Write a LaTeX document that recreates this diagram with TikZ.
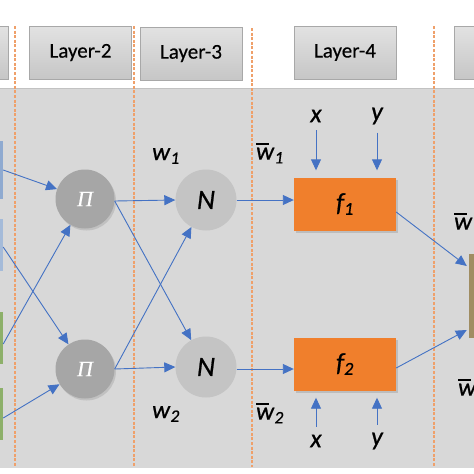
\documentclass[tikz,border=0pt]{standalone}
\usepackage{fontspec}
\setmainfont{Carlito}
\newfontfamily\lblfont{Carlito}[FakeBold=0.7]
\newfontfamily\hdfont{Carlito}[FakeBold=0.35]
\newfontfamily\pifont{Liberation Serif}[FakeBold=0.3]
\usetikzlibrary{arrows.meta,shadows}
\definecolor{panelgray}{HTML}{D8D8D8}
\definecolor{boxtop}{HTML}{E2E2E2}
\definecolor{boxbot}{HTML}{C6C6C6}
\definecolor{boxedge}{HTML}{A8A8A8}
\definecolor{dashorange}{HTML}{EFA06A}
\definecolor{arrowblue}{HTML}{4472C4}
\definecolor{pigray}{HTML}{A6A6A6}
\definecolor{ngray}{HTML}{C4C4C4}
\definecolor{forange}{HTML}{F07F2C}
\definecolor{inblue}{HTML}{8FAAD0}
\definecolor{ingreen}{HTML}{8DB06A}
\definecolor{outolive}{HTML}{A08D62}
\newcommand{\wbar}[1]{\makebox[0pt][l]{\raisebox{0.6em}{\rule{0.52em}{2pt}}}\textit{w}\textsubscript{\itshape #1}}
\tikzset{
  layerbox/.style={draw=boxedge, line width=0.6pt, top color=boxtop, bottom color=boxbot,
    minimum width=102pt, minimum height=53pt, inner sep=0pt, font=\hdfont\fontsize{21}{23}\selectfont},
  dashline/.style={draw=dashorange, line width=1.8pt, dash pattern=on 3pt off 1.6pt},
  picirc/.style={circle, fill=pigray, minimum size=59pt, inner sep=0pt,
    drop shadow={opacity=0.25, shadow xshift=1.5pt, shadow yshift=-2pt},
    text=white, font=\pifont\itshape\fontsize{22}{24}\selectfont},
  ncirc/.style={circle, fill=ngray, minimum size=61pt, inner sep=0pt,
    font=\lblfont\itshape\fontsize{28}{30}\selectfont},
  fbox/.style={rectangle, fill=forange, minimum width=102pt, minimum height=53pt, inner sep=0pt,
    drop shadow={opacity=0.3, shadow xshift=1.5pt, shadow yshift=-2.5pt},
    font=\lblfont\itshape\fontsize{26}{28}\selectfont},
  inbox/.style={rectangle, minimum width=24pt, inner sep=0pt},
  conn/.style={draw=arrowblue, line width=0.9pt, -{Triangle[length=11pt,width=10pt]}},
  lbl/.style={inner sep=0pt, font=\lblfont\fontsize{25}{27}\selectfont},
  xylbl/.style={inner sep=0pt, font=\lblfont\itshape\fontsize{26}{28}\selectfont}
}
\begin{document}
\begin{tikzpicture}[x=1pt,y=-1pt]
\useasboundingbox (0,0) rectangle (474,474);
\clip (0,0) rectangle (474,474);
\fill[white] (0,0) rectangle (474,474);
\fill[panelgray] (0,88) rectangle (474,468);
\draw[boxedge!70, line width=0.5pt] (0,88) -- (474,88);

% layer header boxes
\node[layerbox] (L1) at (-43,52.5) {};
\node[layerbox] (L2) at (80.5,52.5) {Layer-2};
\node[layerbox] (L3) at (191,53.5) {Layer-3};
\node[layerbox] (L4) at (345,52.5) {Layer-4};
\node[layerbox] (L5) at (505,52.5) {Layer-5};

% dashed separators
\draw[dashline] (15,26) -- (15,467);
\draw[dashline] (134,26) -- (134,467);
\draw[dashline] (252,28) -- (252,467);
\draw[dashline] (434,26) -- (434,467);

% input boxes at the left edge (partly visible)
\node[inbox, fill=inblue, minimum height=58pt] (in1) at (-9,170) {};
\node[inbox, fill=inblue!80, minimum height=52pt] (in2) at (-9,245) {};
\node[inbox, fill=ingreen, minimum height=52pt] (in3) at (-9,338) {};
\node[inbox, fill=ingreen, minimum height=52pt] (in4) at (-9,414) {};

% output box at the right edge (partly visible)
\node[rectangle, fill=outolive, minimum width=102pt, minimum height=84pt, inner sep=0pt] (out) at (520,296) {};

% layer 2 and 3 nodes
\node[picirc] (p1) at (85,199) {Π};
\node[picirc] (p2) at (85,369) {Π};
\node[ncirc] (n1) at (206,200) {N};
\node[ncirc] (n2) at (206,367) {N};

% layer 4 nodes
\node[fbox] (f1) at (345,204) {f\textsubscript{1}};
\node[fbox] (f2) at (345,364) {f\textsubscript{2}};

% x, y inputs
\node[xylbl] (x1) at (316,116) {x};
\node[xylbl] (y1) at (377,116) {y};
\node[xylbl] (x2) at (316,441) {x};
\node[xylbl] (y2) at (377,441) {y};

% weight labels
\node[lbl] (w1) at (166,156) {\textit{w}\textsubscript{\itshape 1}};
\node[lbl] (w2) at (166,414) {\textit{w}\textsubscript{\itshape 2}};
\node[lbl] (wb1) at (270,153) {\wbar{1}};
\node[lbl] (wb2) at (270,413) {\wbar{2}};
\node[lbl] (wb1r) at (468,223) {\wbar{1}};
\node[lbl] (wb2r) at (472,389) {\wbar{2}};

% connectors
\draw[conn] (in1.east) -- (p1);
\draw[conn] ([yshift=-2pt]in2.east) -- (p2);
\draw[conn] ([yshift=-6pt]in3.east) -- (p1);
\draw[conn] ([yshift=-4pt]in4.east) -- (p2);

\draw[conn] ([yshift=-2pt]p1.east) -- (n1.west);
\draw[conn] ([yshift=-2pt]p1.east) -- (n2);
\draw[conn] (p2.east) -- (n1);
\draw[conn] (p2.east) -- (n2.west);

\draw[conn] (n1.east) -- ([yshift=4pt]f1.west);
\draw[conn] ([yshift=-2pt]n2.east) -- ([yshift=-5pt]f2.west);

\draw[conn] ([yshift=-8pt]x1.south) -- ([yshift=7pt]f1.north -| x1);
\draw[conn] ([yshift=-8pt]y1.south) -- ([yshift=7pt]f1.north -| y1);
\draw[conn] ([yshift=8pt]x2.north) -- ([yshift=-7pt]f2.south -| x2);
\draw[conn] ([yshift=8pt]y2.north) -- ([yshift=-7pt]f2.south -| y2);

\draw[conn] ([yshift=-8pt]f1.east) -- ([xshift=-2pt,yshift=30pt]out.west);
\draw[conn] ([yshift=-4pt]f2.east) -- ([xshift=-2pt,yshift=-34pt]out.west);
\end{tikzpicture}
\end{document}
